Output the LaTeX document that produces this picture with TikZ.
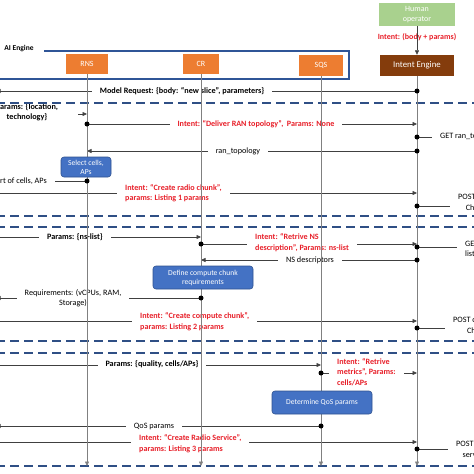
\documentclass[tikz,border=0pt]{standalone}
\usepackage{fontspec}
\setmainfont{Carlito}
\usetikzlibrary{arrows.meta}
\definecolor{orng}{HTML}{ED7D31}
\definecolor{brwn}{HTML}{843C0C}
\definecolor{grn}{HTML}{A9D18E}
\definecolor{actblue}{HTML}{4472C4}
\definecolor{actborder}{HTML}{2F528F}
\definecolor{navy}{HTML}{2F4F85}
\definecolor{aiblue}{HTML}{2F5597}
\definecolor{msgred}{HTML}{E8202A}
\begin{document}
\begin{tikzpicture}[x=1pt,y=-1pt,
  every node/.style={font=\fontsize{8.2}{10.5}\selectfont},
  actor/.style={fill=orng, text=white, minimum height=20pt, inner sep=0pt, font=\fontsize{8}{10}\selectfont},
  ieng/.style={fill=brwn, text=white, minimum width=74pt, minimum height=21pt, inner sep=0pt, font=\fontsize{8.8}{10}\selectfont},
  human/.style={fill=grn, text=white, minimum width=76pt, minimum height=23pt, inner sep=0pt, align=center, font=\fontsize{8}{9.5}\selectfont},
  act/.style={fill=actblue, draw=actborder, line width=0.6pt, rounded corners=3pt, text=white, align=center, inner sep=0pt, font=\fontsize{7.6}{9}\selectfont},
  lbl/.style={fill=white, inner xsep=8pt, inner ysep=0.5pt},
  lblb/.style={lbl, font=\fontsize{8.2}{10.5}\selectfont\bfseries},
  lblr/.style={lbl, text=msgred, font=\fontsize{8.1}{10.5}\selectfont\bfseries},
  msg/.style={draw=black!75, line width=0.6pt},
  msgto/.style={msg, -{Triangle[length=4.5pt,width=4pt]}},
  life/.style={draw=black!50, line width=0.6pt, -{Triangle[length=4.5pt,width=4pt]}},
  sep/.style={draw=navy, line width=1.8pt, dash pattern=on 9pt off 5pt},
  dotc/.style={fill=black}
]
\useasboundingbox (0,0) rectangle (474,474);

% ---- lifeline reference coordinates
\def\xr{87}\def\xc{201}\def\xs{321}\def\xi{417}

% ---- messages
\coordinate (m1a) at (\xi,91);  \coordinate (m1b) at (-4,91);
\coordinate (m2a) at (78,114);  \coordinate (m2b) at (\xr,114);
\coordinate (m3a) at (\xr,124); \coordinate (m3b) at (\xi,124);
\coordinate (m4a) at (\xi,137); \coordinate (m4b) at (478,137);
\coordinate (m5a) at (\xi,151); \coordinate (m5b) at (\xr,151);
\coordinate (m6a) at (\xr,181); \coordinate (m6b) at (-4,181);
\coordinate (m7a) at (-4,193);  \coordinate (m7b) at (\xi,193);
\coordinate (m8a) at (\xi,206); \coordinate (m8b) at (478,206);
\coordinate (m9a) at (-4,237);  \coordinate (m9b) at (\xc,237);
\coordinate (m10a) at (\xc,244); \coordinate (m10b) at (\xi,244);
\coordinate (m11a) at (\xi,247); \coordinate (m11b) at (478,247);
\coordinate (m12a) at (\xi,260); \coordinate (m12b) at (\xc,260);
\coordinate (m13a) at (\xc,298); \coordinate (m13b) at (-4,298);
\coordinate (m14a) at (-4,321); \coordinate (m14b) at (\xi,321);
\coordinate (m15a) at (\xi,328); \coordinate (m15b) at (478,328);
\coordinate (m16a) at (-4,365); \coordinate (m16b) at (\xs,365);
\coordinate (m17a) at (\xs,373); \coordinate (m17b) at (\xi,373);
\coordinate (m18a) at (\xs,426); \coordinate (m18b) at (-4,426);
\coordinate (m19a) at (-4,442); \coordinate (m19b) at (\xi,442);
\coordinate (m20a) at (\xi,449); \coordinate (m20b) at (478,449);

\foreach \m in {1,2,3,4,5,6,7,8,9,10,11,12,13,14,15,16,17,18,19,20}{
  \draw[msgto] (m\m a) -- (m\m b);
}

% ---- labels
\node[lblb] (t1) at (182,91) {Model Request: \{body: “new slice”, parameters\}};
\node[lblb, align=center] (t2) at (27,112) {Params: \{location,\\technology\}};
\node[lblr] (t3) at (256,124) {Intent: “Deliver RAN topology”,\ \ Params: None};
\node[lbl, anchor=west] (t4) at (432,136) {GET ran\_topology};
\node[lbl] (t5) at (238,151) {ran\_topology};
\node[lbl, anchor=east] (t6) at (55,181) {Report of cells, APs};
\node[lblr, anchor=west, align=left] (t7) at (117,193) {Intent: “Create radio chunk”,\\params: Listing 1 params};
\node[lbl, anchor=west, align=center] (t8) at (450,202) {POST radio\\Chunk};
\node[lblb] (t9) at (75,237) {Params: \{ns-list\}};
\node[lblr, anchor=west, align=left] (t10) at (247,242.5) {Intent: “Retrive NS\\description”, Params: ns-list};
\node[lbl, anchor=west, align=left] (t11) at (457,249) {GET NS\\list};
\node[lbl] (t12) at (310,260) {NS descriptors};
\node[lbl, align=center] (t13) at (73,298) {Requirements: (vCPUs, RAM,\\Storage)};
\node[lblr, anchor=west, align=left] (t14) at (132,321.5) {Intent: “Create compute chunk”,\\params: Listing 2 params};
\node[lbl, anchor=west, align=center] (t15) at (445,325.5) {POST compute\\Chunk};
\node[lblb] (t16) at (152,364) {Params: \{quality, cells/APs\}};
\node[lblr, anchor=west, align=left] (t17) at (329,372) {Intent: “Retrive\\metrics”, Params:\\cells/APs};
\node[lbl] (t18) at (154,426) {QoS params};
\node[lblr, anchor=west, align=left] (t19) at (131,443.5) {Intent: “Create Radio Service”,\\params: Listing 3 params};
\node[lbl, anchor=west, align=center] (t20) at (448,449) {POST radio\\service};

% ---- separators
\coordinate (s1a) at (-4,103); \coordinate (s1b) at (478,103);
\coordinate (s2a) at (-4,216); \coordinate (s2b) at (478,216);
\coordinate (s3a) at (-4,227); \coordinate (s3b) at (478,227);
\coordinate (s4a) at (-4,341); \coordinate (s4b) at (478,341);
\coordinate (s5a) at (-4,353); \coordinate (s5b) at (478,353);
\coordinate (s6a) at (-4,466); \coordinate (s6b) at (478,466);
\foreach \s in {1,...,6}{ \draw[sep] (s\s a) -- (s\s b); }

% ---- actors
\node[actor, minimum width=42pt] (rns) at (\xr,64) {RNS};
\node[actor, minimum width=36pt] (cr) at (\xc,64) {CR};
\node[actor, minimum width=44pt, minimum height=21pt] (sqs) at (\xs,65.5) {SQS};
\node[ieng] (ie) at (\xi,65.5) {Intent Engine};
\node[human] (hum) at (\xi,14.5) {Human\\operator};

% ---- AI engine frame
\node[font=\fontsize{7.5}{8}\selectfont\bfseries, inner sep=1pt] (ail) at (19,49) {AI Engine};
\coordinate (ai1) at (44,51); \coordinate (ai2) at (349,51);
\coordinate (ai3) at (349,79); \coordinate (ai4) at (-6,79);
\draw[draw=aiblue, line width=1.5pt] (ai1) -- (ai2) -- (ai3) -- (ai4);

% ---- lifelines
\coordinate (rnsend) at (\xr,466);
\coordinate (crend) at (\xc,466);
\coordinate (sqsend) at (\xs,466);
\coordinate (ieend) at (\xi,466);
\draw[life] (rns.south) -- (rnsend);
\draw[life] (cr.south) -- (crend);
\draw[life] (sqs.south) -- (sqsend);
\draw[life] (ie.south) -- (ieend);

% ---- human to intent engine
\node[font=\fontsize{8}{9}\selectfont\bfseries, text=msgred] (hl) at (\xi,37) {Intent: (body + params)};
\draw[msgto] (hum.south) -- (ie.north);

% ---- origin dots
\foreach \d in {m1a,m3a,m4a,m5a,m6a,m8a,m10a,m11a,m12a,m13a,m15a,m17a,m18a,m20a}{
  \fill[dotc] (\d) circle (2.5pt);
}

% ---- activity boxes
\node[act, minimum width=50pt, minimum height=20pt] (sel) at (86,167) {Select cells,\\APs};
\node[act, minimum width=100pt, minimum height=23pt] (def) at (203,277.5) {Define compute chunk\\requirements};
\node[act, minimum width=100pt, minimum height=23pt] (det) at (322,402.5) {Determine QoS params};
\end{tikzpicture}
\end{document}
